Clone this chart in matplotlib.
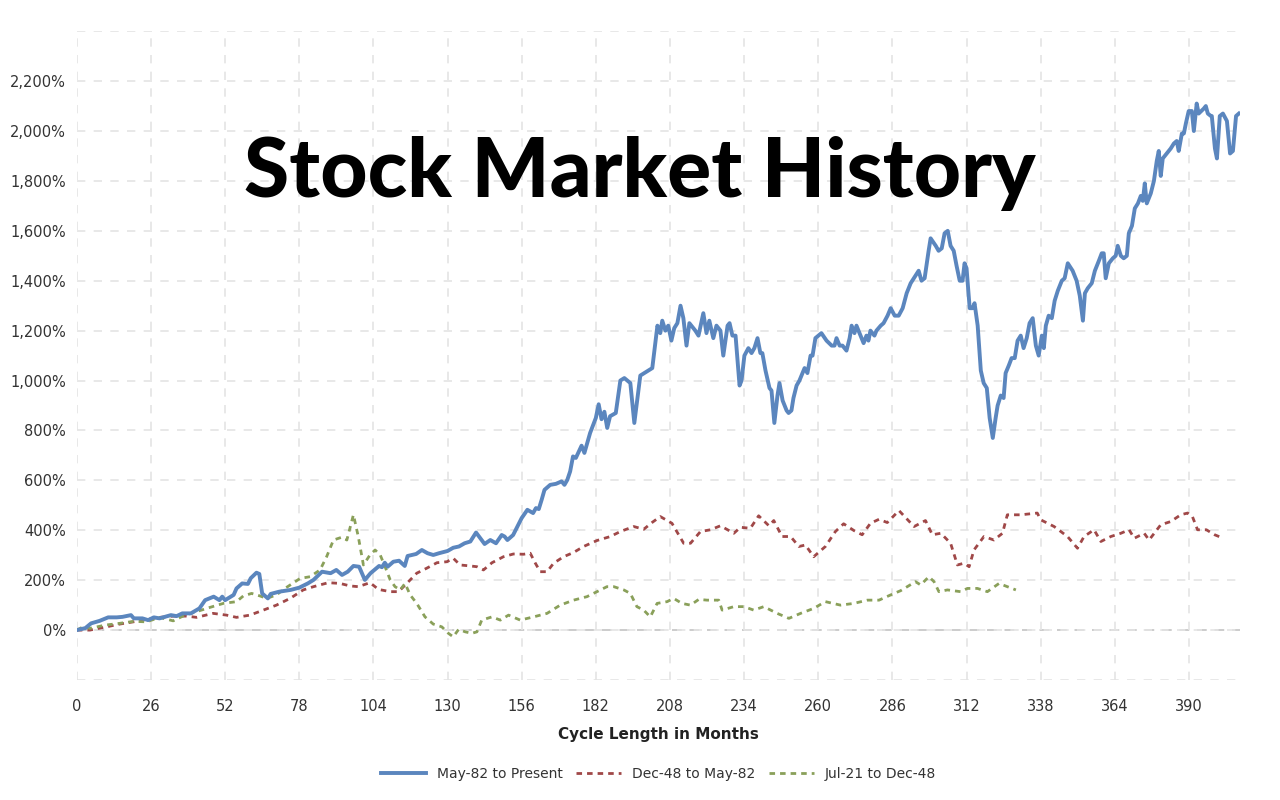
import matplotlib
matplotlib.use("Agg")
import matplotlib.pyplot as plt
from matplotlib.ticker import FuncFormatter

# May-82 to Present (months since cycle start, % gain)
may82_m = [0, 3, 5, 8, 11, 14, 16, 19, 20, 23, 25, 27, 29, 33, 35, 37, 40, 43, 45, 48,
           50, 51, 52, 55, 56, 58, 60, 61, 63, 64, 65, 67, 68, 71, 75, 78, 81, 83, 86, 89,
           91, 93, 95, 97, 99, 101, 103, 106, 107, 108, 109, 111, 113, 115, 116, 119, 121, 123, 125, 127,
           130, 132, 134, 136, 138, 140, 143, 145, 147, 149, 150, 151, 153, 156, 158, 160, 161, 162, 163, 164,
           166, 168, 170, 171, 172, 173, 174, 175, 177, 178, 180, 182, 183, 184, 185, 186, 187, 189,
           190.6, 192, 194.1, 195.5, 197.6, 200.4, 201.8, 203.6, 204.6, 205.3, 206.4, 207.4, 208.5, 209.5, 210.6,
           211.7, 212.7, 213.8, 214.8, 216.9, 218, 219.7, 220.8, 221.8, 223.2, 224.3, 225.7, 226.7, 228.2,
           228.9, 229.9, 231, 232.4, 233.1, 234.1, 235.5, 236.6, 237.6, 238.7, 239.7, 240.4, 241.5, 242.9,
           243.6, 244.6, 245.7, 246.4, 247.5, 248.9, 249.6, 250.6, 251.3, 252.4, 253.4, 255.2, 256.2, 257.3,
           258, 259, 261.1, 262.9, 264.7, 265.7, 266.4, 267.5, 268.5, 269.9, 271, 271.7, 272.7, 273.4,
           275.2, 275.9, 276.9, 277.6, 278.3, 279.7, 280.4, 281.9, 282.9, 284.3, 285.4, 286.8, 288.2, 289.6,
           291, 292.4, 294.1, 295.2, 296.2, 297.3, 298.7, 299.4, 301.2, 302.2, 303.3, 304.3, 305.4, 306.4,
           307.5, 308.5, 309.6, 310.6, 311.3, 312, 313.1, 314.1, 314.8, 315.9, 317, 318, 319.1, 320.1,
           321.2, 322.2, 322.9, 324, 325, 325.7, 326.8, 327.8, 328.9, 329.9, 331, 332, 333.1, 334.1,
           335.2, 336.3, 337.3, 338.4, 339.1, 339.8, 340.8, 341.9, 342.9, 344, 345.4, 346.4, 347.5, 349.2,
           350.6, 351.7, 352.8, 353.5, 354.5, 355.9, 357, 358.4, 359.4, 360.1, 360.8, 361.9, 363.3, 364.3,
           365, 366.1, 367.1, 368.2, 368.9, 370, 371, 372.1, 373.1, 373.8, 374.5, 375.2, 376.6, 377.7,
           378.7, 379.4, 380.1, 380.8, 382.2, 383.6, 384.7, 385.7, 386.4, 387.5, 388.2, 388.9, 389.9, 391,
           391.7, 392.7, 393.4, 395.2, 395.9, 396.6, 397.7, 398, 399.1, 399.8, 400.8, 401.9, 403.3, 404.4,
           405.4, 406.5, 407.5]
may82_v = [0, 8, 27, 37, 51, 51, 53, 60, 47, 47, 40, 51, 47, 60, 56, 67, 67, 87, 120, 134,
           120, 134, 120, 141, 167, 187, 185, 208, 230, 225, 147, 127, 145, 154, 161, 170, 187, 201, 234, 228,
           241, 221, 234, 257, 254, 201, 228, 257, 252, 270, 254, 274, 278, 257, 297, 305, 321, 308, 301, 308,
           317, 330, 335, 348, 355, 391, 345, 361, 348, 381, 375, 361, 381, 449, 482, 469, 489, 485, 522, 562,
           582, 586, 596, 582, 602, 636, 696, 690, 739, 710, 790, 850, 905, 845, 875, 810, 857, 870,
           1000, 1010, 990, 830, 1020, 1040, 1050, 1220, 1190, 1240, 1200, 1220, 1160, 1210, 1230,
           1300, 1250, 1140, 1230, 1200, 1180, 1270, 1190, 1240, 1170, 1220, 1200, 1100, 1220,
           1230, 1180, 1180, 980, 1000, 1100, 1130, 1110, 1130, 1170, 1110, 1110, 1040, 970,
           960, 830, 940, 990, 920, 880, 870, 880, 930, 980, 1000, 1050, 1030, 1100,
           1100, 1170, 1190, 1160, 1140, 1140, 1170, 1140, 1140, 1120, 1170, 1220, 1190, 1220,
           1170, 1150, 1180, 1160, 1200, 1180, 1200, 1220, 1230, 1260, 1290, 1260, 1260, 1290,
           1350, 1390, 1420, 1440, 1400, 1410, 1520, 1570, 1540, 1520, 1530, 1590, 1600, 1540,
           1520, 1460, 1400, 1400, 1470, 1450, 1290, 1290, 1310, 1220, 1040, 990, 970, 850,
           770, 850, 900, 940, 930, 1030, 1060, 1090, 1090, 1160, 1180, 1130, 1170, 1230,
           1250, 1140, 1100, 1180, 1130, 1220, 1260, 1250, 1320, 1360, 1400, 1410, 1470, 1440,
           1400, 1340, 1240, 1350, 1370, 1390, 1440, 1480, 1510, 1510, 1410, 1470, 1490, 1500,
           1540, 1500, 1490, 1500, 1590, 1620, 1690, 1710, 1740, 1720, 1790, 1710, 1750, 1800,
           1880, 1920, 1820, 1890, 1910, 1930, 1950, 1960, 1920, 1990, 1990, 2030, 2080, 2080,
           2000, 2110, 2070, 2090, 2100, 2070, 2060, 2060, 1930, 1890, 2060, 2070, 2040, 1910,
           1920, 2060, 2070]

# Dec-48 to May-82
dec48_m = [0, 4.6, 10.4, 15, 19.8, 24.5, 29, 33.8, 38.5, 42, 47.8, 52.5, 56, 60.7, 65.4, 70, 74.8,
           79.4, 83, 88.2, 92.3, 95.8, 98.7, 102.8, 105.8, 109.9, 112.8, 115.7, 119.2, 122.7, 126.3,
           129.8, 132, 134.4, 138, 140.3, 142.6, 145.6, 149.6, 153.1, 156.7, 159, 160.8, 162.5, 164.9,
           167.2, 170.7, 174.2, 177.7, 182.4, 187.1, 190.6, 195.3, 198.8, 201.7, 204.6, 208.7, 212.8,
           215.2, 218.7, 222.2, 225.7, 230.4, 232.7, 236.2, 239.1, 242.7, 244.4, 247.3, 250.3, 253.2,
           255.5, 258.4, 262.5, 266, 268.9, 272.5, 275.4, 278.3, 281.3, 284.2, 288.3, 293.6, 297.6,
           300, 303, 306.4, 308.8, 311.1, 312.9, 314.6, 318.1, 321.6, 324.6, 326.3, 331, 336.8, 338,
           342.7, 347.4, 350.9, 353.2, 356.7, 359.1, 362.6, 366.1, 369, 370.8, 374.3, 376, 380.1,
           383.6, 387.1, 389.5, 391.2, 393, 396.1, 399, 402]
dec48_v = [0, 0, 13, 24, 33, 43, 51, 56, 56, 51, 67, 60, 51, 60, 80, 100, 127,
           161, 174, 190, 187, 177, 174, 190, 163, 154, 154, 187, 228, 248, 270,
           274, 288, 261, 257, 254, 241, 270, 294, 305, 304, 308, 268, 234, 234,
           268, 294, 311, 335, 359, 375, 395, 415, 404, 431, 455, 428, 348,
           348, 395, 402, 418, 388, 412, 408, 458, 418, 439, 375, 375, 335,
           341, 294, 335, 395, 426, 399, 382, 428, 444, 431, 479, 415, 439,
           382, 388, 348, 261, 268, 254, 321, 375, 361, 388, 462, 462, 469, 442,
           415, 375, 328, 375, 402, 355, 375, 388, 402, 368, 388, 361, 422,
           435, 462, 469, 455, 402, 402, 382, 368]

# Jul-21 to Dec-48
jul21_m = [0, 2.2, 4.6, 10, 15, 20, 24.5, 29, 33.8, 37.9, 42, 46.7, 51.4, 56, 58.4, 61.3, 64.2,
           66.6, 70, 73, 78.3, 81.8, 85.3, 87.6, 90, 92.9, 94.7, 97, 98.7, 100.5, 102.8, 104.6,
           106.4, 108.1, 109.9, 111.6, 113.4, 115.1, 116.9, 119.2, 122.1, 125, 128, 130.3, 132,
           133.9, 136.2, 138.5, 140.3, 142, 145.6, 148.5, 151.4, 155.5, 160.2, 164.9, 169.5, 174.2,
           178.9, 182.4, 185.9, 188.3, 191.8, 194.1, 196.4, 198.8, 201.1, 203.5, 207, 209.3, 212.2,
           215.2, 218.1, 221, 225.1, 226.3, 230.4, 233.9, 237.4, 240.9, 245.6, 249.7, 253.8, 258.4,
           262.5, 267.8, 272.5, 277.2, 281.3, 285.4, 288.9, 294.1, 295.9, 298.8, 300.6, 302.3,
           305.3, 309.9, 312.3, 315.8, 319.3, 323.4, 326.3, 329.3]
jul21_v = [0, 13, 7, 20, 27, 35, 33, 51, 37, 60, 74, 91, 107, 114, 137, 147, 137,
           127, 141, 167, 207, 214, 241, 294, 361, 372, 361, 462, 375, 261, 301, 321,
           301, 254, 201, 174, 161, 187, 141, 107, 53, 24, 13, -13, -27,
           3, -7, -13, -7, 40, 53, 40, 60, 40, 53, 67, 100, 120,
           134, 154, 174, 174, 161, 147, 94, 80, 53, 107, 114, 127, 107,
           100, 123, 120, 120, 80, 94, 94, 80, 94, 67, 47, 67, 87,
           114, 100, 107, 120, 120, 141, 158, 194, 181, 214, 194, 154,
           161, 154, 167, 167, 154, 187, 174, 161]

x_ticks = list(range(0, 391, 26))
y_ticks = list(range(-200, 2401, 200))

fig = plt.figure(figsize=(12.8, 8), dpi=100)
ax = fig.add_axes([0.060, 0.150, 0.909, 0.811])

ax.plot(may82_m, may82_v, color='#5b86be', lw=2.8, solid_joinstyle='round',
        label='May-82 to Present', zorder=4)
ax.plot(dec48_m, dec48_v, color='#a04848', lw=2, linestyle=(0, (2, 1.8)),
        label='Dec-48 to May-82', zorder=3)
ax.plot(jul21_m, jul21_v, color='#8aa05a', lw=2, linestyle=(0, (2, 1.8)),
        label='Jul-21 to Dec-48', zorder=3)

ax.set_xlim(0, 408)
ax.set_ylim(-200, 2400)
ax.set_xticks(x_ticks)
ax.set_yticks(y_ticks)

def pct(v, pos):
    if v < 0 or v > 2200:
        return ''
    return '{:,.0f}%'.format(v)
ax.yaxis.set_major_formatter(FuncFormatter(pct))

ax.grid(True, color='#e4e4e4', linestyle=(0, (5, 5)), lw=1.2)
ax.axhline(0, color='#cccccc', linestyle=(0, (5, 4)), lw=1.4, zorder=1)
for s in ax.spines.values():
    s.set_visible(False)
ax.tick_params(length=0, labelsize=10.5, colors='#333333')
ax.tick_params(axis='x', pad=14)
ax.tick_params(axis='y', pad=8)

ax.set_xlabel('Cycle Length in Months', fontsize=11, fontweight='bold', color='#222222', labelpad=9)

ax.legend(loc='upper center', bbox_to_anchor=(0.5, -0.115), ncol=3, frameon=False,
          fontsize=10, handlelength=3.2, columnspacing=1.0, labelcolor='#333333')

fig.text(0.5, 0.783, 'Stock Market History', ha='center', va='center',
         fontsize=59, fontweight='black', family=['Lato', 'DejaVu Sans'], color='black')

fig.savefig('out.png', dpi=100)
